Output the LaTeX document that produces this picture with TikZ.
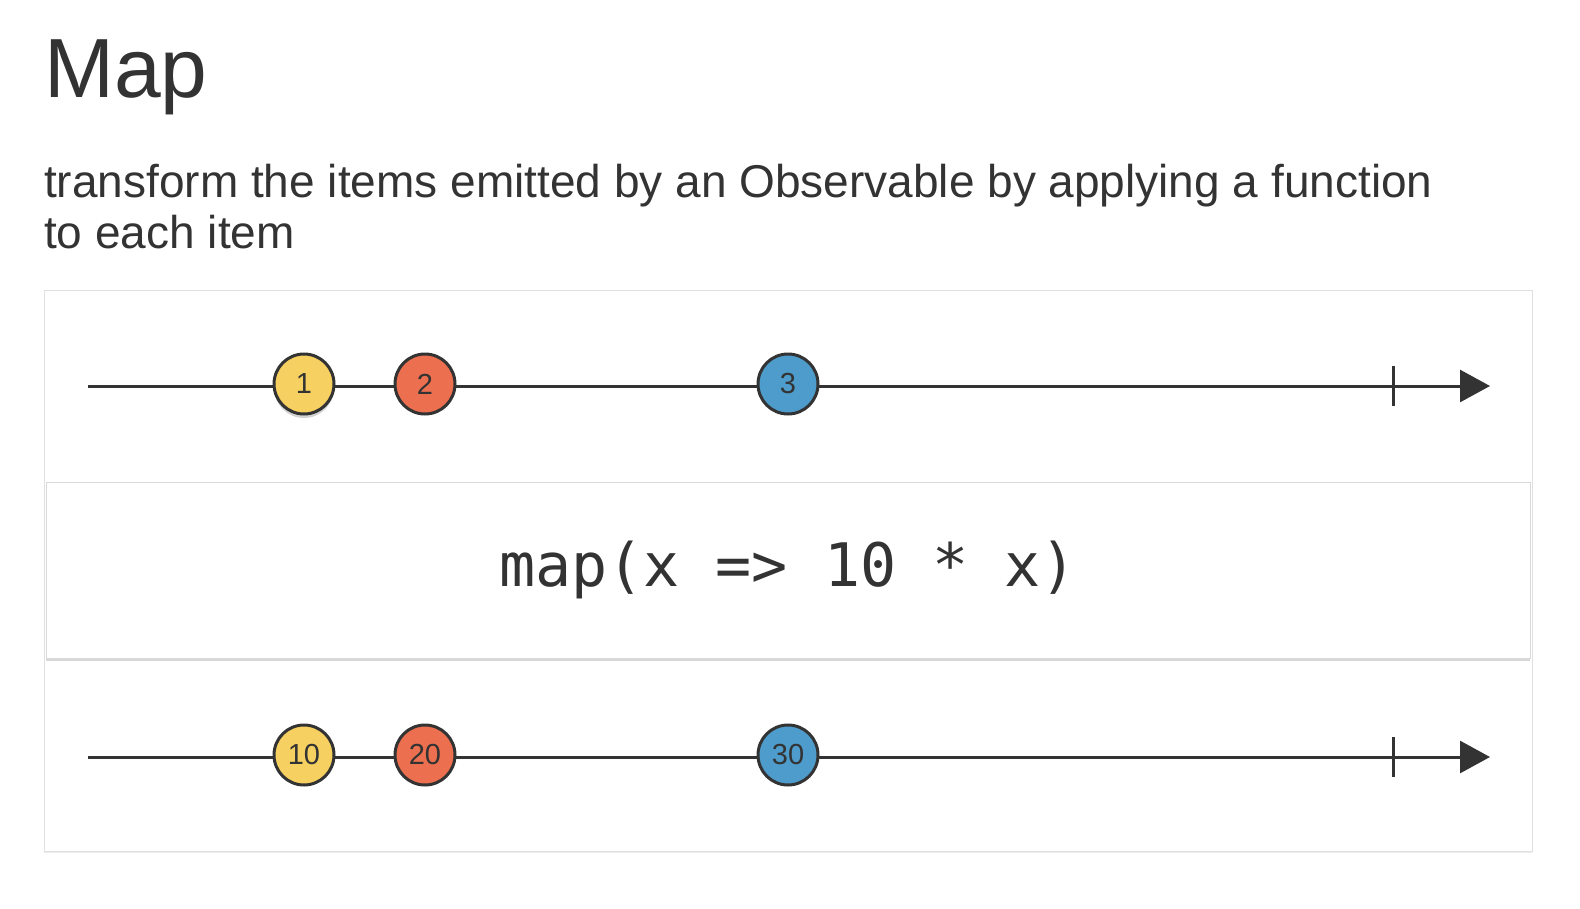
\documentclass[tikz,border=0pt]{standalone}
\usepackage{fontspec}
\setmainfont{Liberation Sans}
\newfontfamily\monof{DejaVu Sans Mono}
\usetikzlibrary{shadows,arrows.meta}
\definecolor{ink}{HTML}{333333}
\definecolor{cyel}{HTML}{F6D060}
\definecolor{cora}{HTML}{EC6F4F}
\definecolor{cblu}{HTML}{4D9CCB}
\tikzset{
 marble/.style={circle,draw=ink,line width=3pt,minimum size=60pt,inner sep=0pt,font=\fontsize{29}{29}\selectfont,text=ink},
 tl/.style={draw=ink,line width=3pt},
}
\begin{document}
\begin{tikzpicture}[x=1pt,y=-1pt]
\useasboundingbox (0,0) rectangle (1580,908);
\node[anchor=base west,inner sep=0,text=ink,font=\fontsize{84}{84}\selectfont] (title) at (44,97) {Map};
\node[anchor=base west,inner sep=0,text=ink,font=\fontsize{46}{51}\selectfont,align=left] (desc) at (44,197) {transform the items emitted by an Observable by applying a function};
\node[anchor=base west,inner sep=0,text=ink,font=\fontsize{46}{51}\selectfont] (desc2) at (44,248) {to each item};
\draw[draw=black!12,fill=white,drop shadow={opacity=0.15,shadow xshift=0pt,shadow yshift=-2pt}] (44,290) rectangle (1532,851);
% upper
\coordinate (us) at (88,386); \coordinate (ue) at (1490,386);
\draw[tl,-{Triangle[length=30pt,width=32pt]}] (us) -- (ue);
\draw[tl] (1393,366) -- (1393,406);
\node[marble,fill=cyel,drop shadow={opacity=0.35,shadow xshift=0pt,shadow yshift=-4pt}] (a1) at (304,384) {1};
\node[marble,fill=cora] (a2) at (425,384) {2};
\node[marble,fill=cblu] (a3) at (788,384) {3};
% operator
\node[draw=black!15,fill=white,minimum width=1484pt,minimum height=176pt,inner sep=0,
 drop shadow={opacity=0.3,shadow xshift=0pt,shadow yshift=-3pt},
 font=\monof\fontsize{60}{60}\selectfont,text=ink] (op) at (788,570) {map(x => 10 * x)};
% lower
\coordinate (ls) at (88,757); \coordinate (le) at (1490,757);
\draw[tl,-{Triangle[length=30pt,width=32pt]}] (ls) -- (le);
\draw[tl] (1393,737) -- (1393,777);
\node[marble,fill=cyel] (b1) at (304,755) {10};
\node[marble,fill=cora] (b2) at (425,755) {20};
\node[marble,fill=cblu] (b3) at (788,755) {30};
\end{tikzpicture}
\end{document}
